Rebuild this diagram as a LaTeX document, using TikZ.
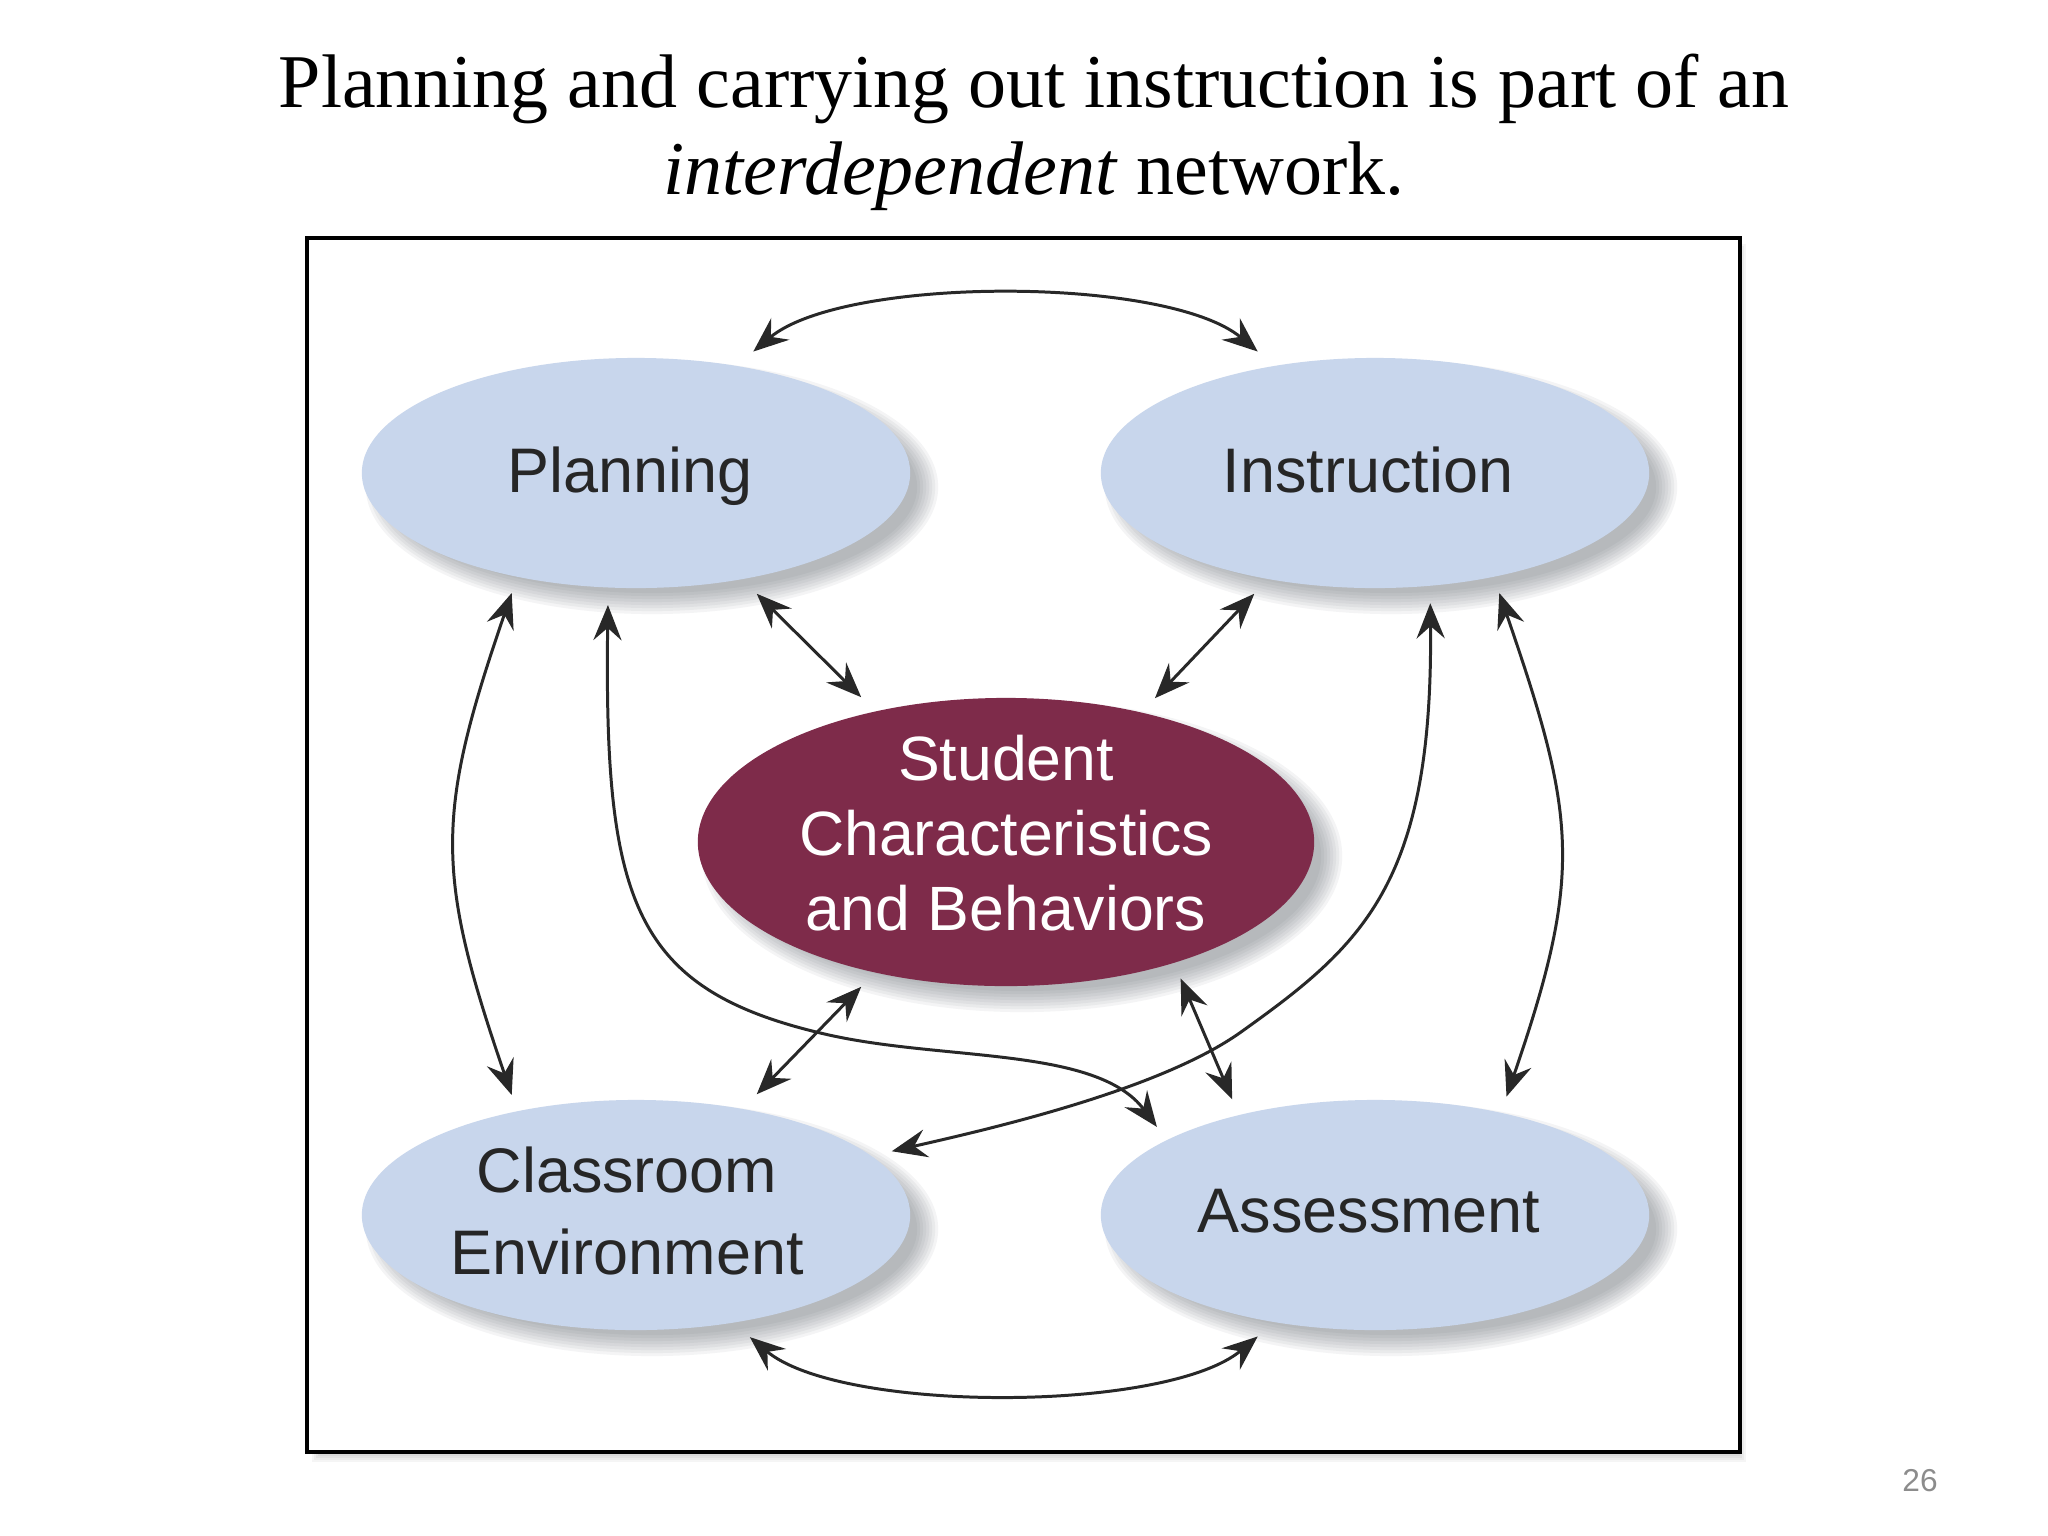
\documentclass[tikz,border=0pt]{standalone}
\usepackage{fontspec}
\setmainfont{Liberation Serif}
\newfontfamily\helv{Liberation Sans}
\usetikzlibrary{shapes.geometric,arrows.meta,calc}
\pgfdeclarelayer{background}
\pgfsetlayers{background,main}
\definecolor{ellblue}{RGB}{200,214,236}
\definecolor{coremaroon}{RGB}{126,43,74}
\definecolor{arrowgray}{RGB}{40,40,40}
\definecolor{pagegray}{RGB}{140,140,140}
\definecolor{shadowgray}{RGB}{70,80,90}
\begin{document}
\begin{tikzpicture}[x=0.01cm,y=-0.01cm,
  bubble/.style={ellipse, fill=ellblue, inner sep=0pt, outer sep=5pt, minimum width=5.48cm, minimum height=2.30cm},
  core/.style={ellipse, fill=coremaroon, inner sep=0pt, outer sep=5pt, minimum width=6.16cm, minimum height=2.88cm},
  btext/.style={font=\helv\fontsize{17.9}{23.4}\selectfont, text=black!85, align=center},
  ctext/.style={font=\helv\fontsize{17.8}{21.3}\selectfont, text=white, align=center},
  tip/.tip={Stealth[length=10pt,width=8pt,inset=3.5pt]},
  link/.style={draw=arrowgray, line width=0.85pt, tip-tip},
  titletext/.style={font=\fontsize{21.6}{24.2}\selectfont, anchor=base},
]
\useasboundingbox (0,0) rectangle (2048,1536);

% title
\node[titletext] (t1) at (1034,107) {Planning and carrying out instruction is part of an};
\node[titletext] (t2) at (1034,194) {\textit{interdependent} network.};

% frame
\draw[line width=1.4pt] (307,238) rectangle (1740,1452);

% ellipses
\node[bubble] (P) at (636,473) {};
\node[bubble] (I) at (1375,473) {};
\node[bubble] (C) at (636,1215) {};
\node[bubble] (A) at (1375,1215) {};
\node[core]   (S) at (1006,842) {};

\node[btext, anchor=base] (Pt) at ([shift={(-6,19)}]P.center) {Planning};
\node[btext, anchor=base] (It) at ([shift={(-7,19)}]I.center) {Instruction};
\node[btext] (Ct) at ([shift={(-9,-4)}]C.center) {Classroom\\Environment};
\node[btext] (At) at ([shift={(-6,-4)}]A.center) {Assessment};
\node[ctext] (St) at ([shift={(0,-9)}]S.center) {Student\\Characteristics\\and Behaviors};

% connectors
\draw[link] (P.46) to[out=40,in=140,looseness=0.6] (I.134);
\draw[link] (C.-47) to[out=-40,in=-140,looseness=0.6] (A.-134);
\draw[link] (P.224) to[out=251,in=109,looseness=1.2] (C.136);
\draw[link] (I.-44) to[out=-71,in=71,looseness=1.2] (A.42);
\draw[link] (P.-45) -- (S.135.6);
\draw[link] (I.225) -- (S.44.6);
\draw[link] (S.225.2) -- (C.45.5);
\draw[link] (S.-38.8) -- (A.141.4);
\draw[link] (P.258) .. controls +(-4,300) and +(-195,-44) .. (829,1035) .. controls +(117,26) and +(-60,-80) .. (A.158);
\draw[link] (I.-67) .. controls +(3,280) and +(122,-87) .. (1241,1032) .. controls +(-81,58) and +(97,-22) .. (C.14.5);

% page number
\node[font=\helv\fontsize{9}{10}\selectfont, text=pagegray] (pg) at (1920,1481) {26};

% shadows
\begin{pgfonlayer}{background}
  \fill[white] (0,0) rectangle (2048,1536);
  \foreach \k in {0,...,3}{
    \fill[black, opacity=0.04] (312+\k*2,244+\k*2) rectangle (1746-\k*2,1462-\k*2);
  }
  \fill[white] (307,238) rectangle (1740,1452);
  \foreach \n/\rx/\ry in {P/2.74/1.15, I/2.74/1.15, C/2.74/1.15, A/2.74/1.15, S/3.08/1.44}{
    \foreach \k in {0,...,7}{
      \fill[shadowgray, opacity=0.06] ([shift={(16,14)}]\n.center) ellipse [x radius={\rx cm + 0.12cm - \k*0.03cm}, y radius={\ry cm + 0.12cm - \k*0.03cm}];
    }
  }
\end{pgfonlayer}
\end{tikzpicture}
\end{document}
